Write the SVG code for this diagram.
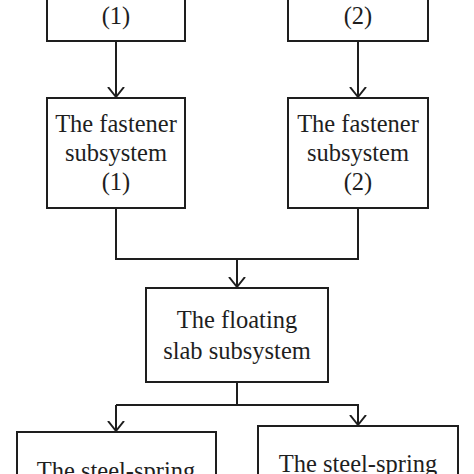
<svg xmlns="http://www.w3.org/2000/svg" width="474" height="474" viewBox="0 0 474 474">
<defs>
<style>
.box{fill:#fff;stroke:#1e1e1e;stroke-width:2}
.t{font-family:"Liberation Serif","Times New Roman",serif;font-size:24.5px;fill:#1e1e1e;text-anchor:middle}
.c{fill:none;stroke:#1e1e1e;stroke-width:2}
</style>
<marker id="ah" viewBox="0 0 20 20" refX="10" refY="10" markerWidth="20" markerHeight="20" markerUnits="userSpaceOnUse" orient="auto">
<polyline points="0,2 10,10 0,18" fill="none" stroke="#1e1e1e" stroke-width="2"/>
</marker>
</defs>
<rect width="474" height="474" fill="#fff"/>
<g id="connectors">
<line class="c" x1="116" y1="41" x2="116" y2="97" marker-end="url(#ah)"/>
<line class="c" x1="358" y1="41" x2="358" y2="97" marker-end="url(#ah)"/>
<polyline class="c" points="116,208 116,259 358,259 358,208"/>
<line class="c" x1="237" y1="259" x2="237" y2="287" marker-end="url(#ah)"/>
<line class="c" x1="237" y1="382" x2="237" y2="405"/>
<polyline class="c" points="116,405 358,405 358,425" marker-end="url(#ah)"/>
<polyline class="c" points="116,405 116,431" marker-end="url(#ah)"/>
</g>
<g id="top1">
<rect class="box" x="47" y="-20" width="138" height="61"/>
<text class="t" x="116" y="24">(1)</text>
</g>
<g id="top2">
<rect class="box" x="288" y="-20" width="140" height="61"/>
<text class="t" x="358" y="24">(2)</text>
</g>
<g id="fastener1">
<rect class="box" x="47" y="98" width="138" height="110"/>
<text class="t" x="116" y="132">The fastener</text>
<text class="t" x="116" y="161">subsystem</text>
<text class="t" x="116" y="190">(1)</text>
</g>
<g id="fastener2">
<rect class="box" x="288" y="98" width="140" height="110"/>
<text class="t" x="358" y="132">The fastener</text>
<text class="t" x="358" y="161">subsystem</text>
<text class="t" x="358" y="190">(2)</text>
</g>
<g id="floating">
<rect class="box" x="146" y="288" width="182" height="94"/>
<text class="t" x="237" y="328">The floating</text>
<text class="t" x="237" y="359">slab subsystem</text>
</g>
<g id="spring1">
<rect class="box" x="17" y="432" width="199" height="60"/>
<text class="t" x="116" y="479">The steel-spring</text>
</g>
<g id="spring2">
<rect class="box" x="258" y="426" width="200" height="60"/>
<text class="t" x="358" y="472">The steel-spring</text>
</g>
</svg>
